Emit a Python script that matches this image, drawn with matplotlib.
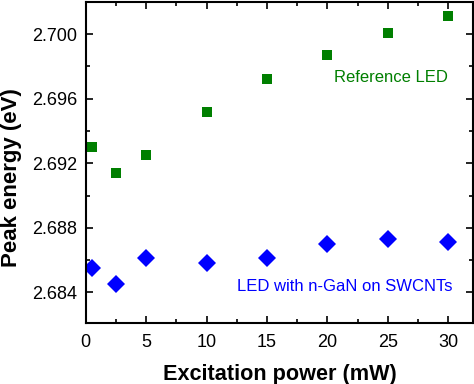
import matplotlib
matplotlib.use("Agg")
import matplotlib.pyplot as plt
from matplotlib.ticker import MultipleLocator

plt.rcParams['font.family'] = ['Liberation Sans', 'DejaVu Sans']

power = [0.5, 2.5, 5, 10, 15, 20, 25, 30]
ref_led = [2.6930, 2.6914, 2.6925, 2.6952, 2.6972, 2.6987, 2.7001, 2.7011]
swcnt_led = [2.6855, 2.6845, 2.6861, 2.6858, 2.6861, 2.6870, 2.6873, 2.6871]

fig = plt.figure(figsize=(4.74, 3.84), dpi=100)
ax = fig.add_axes([0.181, 0.159, 0.817, 0.836])

ax.plot(power, ref_led, 's', color='#007f00', markersize=6.8, markeredgewidth=0)
ax.plot(power, swcnt_led, 'D', color='#0000ff', markersize=9.5, markeredgewidth=0)

ax.text(25.27, 2.6973, 'Reference LED', color='#007f00', fontsize=12, ha='center', va='center')
ax.text(21.45, 2.68437, 'LED with n-GaN on SWCNTs', color='#0000ff', fontsize=12, ha='center', va='center')

ax.set_xlim(0, 32.06)
ax.set_ylim(2.6821, 2.7020)
ax.xaxis.set_major_locator(MultipleLocator(5))
ax.xaxis.set_minor_locator(MultipleLocator(2.5))
ax.yaxis.set_major_locator(MultipleLocator(0.004))
ax.yaxis.set_minor_locator(MultipleLocator(0.002))
ax.yaxis.set_major_formatter(plt.FormatStrFormatter('%.3f'))

ax.tick_params(which='both', direction='in', top=True, right=True, width=1.2, labelsize=13)
ax.tick_params(which='major', length=5)
ax.tick_params(which='minor', length=3)
ax.tick_params(axis='x', which='major', pad=8)
ax.tick_params(axis='y', which='major', pad=6)
for s in ax.spines.values():
    s.set_linewidth(1.5)

ax.set_xlabel('Excitation power (mW)', fontsize=15.6, fontweight='bold', labelpad=9)
ax.set_ylabel('Peak energy (eV)', fontsize=16, fontweight='bold')
ax.yaxis.set_label_coords(-0.165, 0.452)

fig.savefig('out.png', dpi=100)
